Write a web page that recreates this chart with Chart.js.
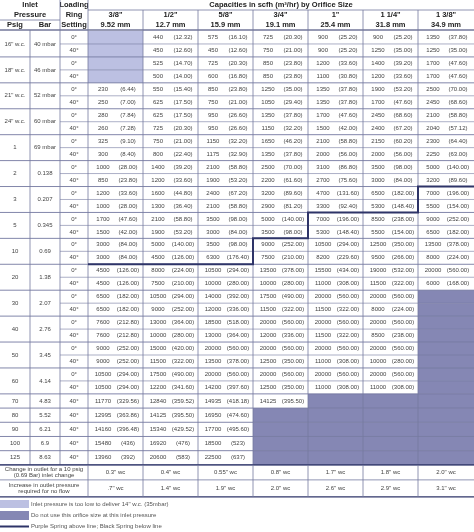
<!DOCTYPE html>
<html>
<head>
<meta charset="utf-8">
<script src="https://cdn.jsdelivr.net/npm/chart.js@4.4.0/dist/chart.umd.min.js"></script>
<style>
  html, body { margin: 0; padding: 0; background: #fff; }
  #wrap { width: 474px; height: 532px; }
</style>
</head>
<body>
<div id="wrap"><canvas id="tbl" width="474" height="532"></canvas></div>
<script>
// table data
const psigLabels = ['16" w.c.', '18" w.c.', '21" w.c.', '24" w.c.', '1', '2', '3', '5', '10', '20', '30', '40', '50', '60', '70', '80', '90', '100', '125'];
const barLabels = ['40 mbar', '46 mbar', '52 mbar', '60 mbar', '69 mbar', '0.138', '0.207', '0.345', '0.69', '1.38', '2.07', '2.76', '3.45', '4.14', '4.83', '5.52', '6.21', '6.9', '8.63'];
const sizeLabels = ['3/8"', '1/2"', '5/8"', '3/4"', '1"', '1 1/4"', '1 3/8"'];
const sizeMm = ['9.52 mm', '12.7 mm', '15.9 mm', '19.1 mm', '25.4 mm', '31.8 mm', '34.9 mm'];
const ringSetting = ['0°', '40°'];

// "scfh m3/hr", null = shaded cell
const capacities = [
  [null, '440 12.32', '575 16.10', '725 20.30', '900 25.20', '900 25.20', '1350 37.80'],
  [null, '450 12.60', '450 12.60', '750 21.00', '900 25.20', '1250 35.00', '1250 35.00'],
  [null, '525 14.70', '725 20.30', '850 23.80', '1200 33.60', '1400 39.20', '1700 47.60'],
  [null, '500 14.00', '600 16.80', '850 23.80', '1100 30.80', '1200 33.60', '1700 47.60'],
  ['230 6.44', '550 15.40', '850 23.80', '1250 35.00', '1350 37.80', '1900 53.20', '2500 70.00'],
  ['250 7.00', '625 17.50', '750 21.00', '1050 29.40', '1350 37.80', '1700 47.60', '2450 68.60'],
  ['280 7.84', '625 17.50', '950 26.60', '1350 37.80', '1700 47.60', '2450 68.60', '2100 58.80'],
  ['260 7.28', '725 20.30', '950 26.60', '1150 32.20', '1500 42.00', '2400 67.20', '2040 57.12'],
  ['325 9.10', '750 21.00', '1150 32.20', '1650 46.20', '2100 58.80', '2150 60.20', '2300 64.40'],
  ['300 8.40', '800 22.40', '1175 32.90', '1350 37.80', '2000 56.00', '2000 56.00', '2250 63.00'],
  ['1000 28.00', '1400 39.20', '2100 58.80', '2500 70.00', '3100 86.80', '3500 98.00', '5000 140.00'],
  ['850 23.80', '1200 33.60', '1900 53.20', '2200 61.60', '2700 75.60', '3000 84.00', '3200 89.60'],
  ['1200 33.60', '1600 44.80', '2400 67.20', '3200 89.60', '4700 131.60', '6500 182.00', '7000 196.00'],
  ['1000 28.00', '1300 36.40', '2100 58.80', '2900 81.20', '3300 92.40', '5300 148.40', '5500 154.00'],
  ['1700 47.60', '2100 58.80', '3500 98.00', '5000 140.00', '7000 196.00', '8500 238.00', '9000 252.00'],
  ['1500 42.00', '1900 53.20', '3000 84.00', '3500 98.00', '5300 148.40', '5500 154.00', '6500 182.00'],
  ['3000 84.00', '5000 140.00', '3500 98.00', '9000 252.00', '10500 294.00', '12500 350.00', '13500 378.00'],
  ['3000 84.00', '4500 126.00', '6300 176.40', '7500 210.00', '8200 229.60', '9500 266.00', '8000 224.00'],
  ['4500 126.00', '8000 224.00', '10500 294.00', '13500 378.00', '15500 434.00', '19000 532.00', '20000 560.00'],
  ['4500 126.00', '7500 210.00', '10000 280.00', '10000 280.00', '11000 308.00', '11500 322.00', '6000 168.00'],
  ['6500 182.00', '10500 294.00', '14000 392.00', '17500 490.00', '20000 560.00', '20000 560.00', null],
  ['6500 182.00', '9000 252.00', '12000 336.00', '11500 322.00', '11500 322.00', '8000 224.00', null],
  ['7600 212.80', '13000 364.00', '18500 518.00', '20000 560.00', '20000 560.00', '20000 560.00', null],
  ['7600 212.80', '10000 280.00', '13000 364.00', '12000 336.00', '11500 322.00', '8500 238.00', null],
  ['9000 252.00', '15000 420.00', '20000 560.00', '20000 560.00', '20000 560.00', '20000 560.00', null],
  ['9000 252.00', '11500 322.00', '13500 378.00', '12500 350.00', '11000 308.00', '10000 280.00', null],
  ['10500 294.00', '17500 490.00', '20000 560.00', '20000 560.00', '20000 560.00', '20000 560.00', null],
  ['10500 294.00', '12200 341.60', '14200 397.60', '12500 350.00', '11000 308.00', '11000 308.00', null],
  ['11770 329.56', '12840 359.52', '14935 418.18', '14125 395.50', null, null, null],
  ['12995 363.86', '14125 395.50', '16950 474.60', null, null, null, null],
  ['14160 396.48', '15340 429.52', '17700 495.60', null, null, null, null],
  ['15480 436', '16920 476', '18500 523', null, null, null, null],
  ['13960 392', '20600 583', '22500 637', null, null, null, null]
];

const changeOutlet = ['0.3" wc', '0.4" wc', '0.55" wc', '0.8" wc', '1.7" wc', '1.8" wc', '2.0" wc'];
const noFlowIncrease = ['.7" wc', '1.4" wc', '1.9" wc', '2.0" wc', '2.6" wc', '2.9" wc', '3.1" wc'];
const legendTexts = [
  'Inlet pressure is too low to deliver 14" w.c. (35mbar)',
  'Do not use this orifice size at this inlet pressure',
  'Purple Spring above line; Black Spring below line'
];

// layout (table units = scale values)
const colEdges = [0, 30, 60, 88, 143, 198, 253, 308, 363, 418, 474];
const headTop = 31, subRow = 12.96, groups = 14, singleRow = 14.2;
const rowTop = r => r <= 28 ? headTop + r * subRow : headTop + 28 * subRow + (r - 28) * singleRow;
const rowBottom = r => rowTop(r) + (r < 28 ? subRow : singleRow);
const footTop = rowTop(33);

const FONT = '"Liberation Sans Narrow", "Arial Narrow", "Liberation Sans", sans-serif';
const LINE = '#7478a0', DARK = '#2e3468', LIGHT_FILL = '#bcc0e2', DARK_FILL = '#8587b4';

const tablePlugin = {
  id: 'table',
  afterDatasetsDraw(chart) {
    const ctx = chart.ctx, xs = chart.scales.x, ys = chart.scales.y;
    const X = v => xs.getPixelForValue(v), Y = v => ys.getPixelForValue(v);
    const text = (s, x, y, size, opts = {}) => {
      ctx.font = (opts.bold ? 'bold ' : '') + size + 'px ' + FONT;
      ctx.fillStyle = opts.color || '#444';
      ctx.textAlign = opts.align || 'center';
      ctx.textBaseline = 'middle';
      ctx.fillText(s, X(x), Y(y));
    };
    const line = (x0, y0, x1, y1, w, c) => {
      ctx.beginPath();
      ctx.lineWidth = w; ctx.strokeStyle = c;
      ctx.moveTo(X(x0), Y(y0)); ctx.lineTo(X(x1), Y(y1)); ctx.stroke();
    };
    ctx.save();

    // shaded cells
    capacities.forEach((row, r) => row.forEach((cell, c) => {
      if (cell !== null) return;
      ctx.fillStyle = r < 4 ? LIGHT_FILL : DARK_FILL;
      const x0 = X(colEdges[c + 3]), x1 = X(colEdges[c + 4]);
      ctx.fillRect(x0, Y(rowTop(r)), x1 - x0, Y(rowBottom(r)) - Y(rowTop(r)));
    }));

    // header
    const hd = { bold: true, color: '#222' };
    text('Inlet', 30, 5, 7.5, hd);
    text('Pressure', 30, 14.5, 7.5, hd);
    text('Psig', 15, 25, 7.5, hd);
    text('Bar', 45, 25, 7.5, hd);
    text('Loading', 74, 5, 7.5, hd);
    text('Ring', 74, 15, 7.5, hd);
    text('Setting', 74, 25, 7.5, hd);
    text('Capacities in scfh (m³/hr) by Orifice Size', 281, 5, 7.5, hd);
    sizeLabels.forEach((s, i) => {
      const cx = (colEdges[i + 3] + colEdges[i + 4]) / 2;
      text(s, cx, 15, 7.5, hd);
      text(sizeMm[i], cx, 25, 7.5, hd);
    });
    line(0, 20, 60, 20, 0.8, LINE);
    line(88, 10, 474, 10, 0.8, LINE);
    line(0, 30, 474, 30, 1.2, DARK);
    line(60, 0, 60, 30, 0.8, LINE);
    line(88, 0, 88, 30, 0.8, LINE);
    for (let i = 4; i < 10; i++) line(colEdges[i], 10, colEdges[i], 30, 0.8, LINE);

    // body rows
    for (let r = 0; r < 33; r++) {
      const cy = (rowTop(r) + rowBottom(r)) / 2;
      const ring = r < 28 ? ringSetting[r % 2] : ringSetting[1];
      text(ring, 74, cy, 6);
      capacities[r].forEach((cell, c) => {
        if (cell === null) return;
        const [scfh, m3] = cell.split(' ');
        text(scfh, colEdges[c + 3] + 15, cy, 6);
        text('(' + m3 + ')', colEdges[c + 3] + 40, cy, 6);
      });
      const groupEnd = r >= 27 || r % 2 === 1;
      line(groupEnd ? 0 : 60, rowBottom(r), 474, rowBottom(r), groupEnd ? 0.9 : 0.6, LINE);
    }
    for (let g = 0; g < psigLabels.length; g++) {
      const r0 = g < groups ? g * 2 : g + 14;
      const r1 = g < groups ? r0 + 1 : r0;
      const cy = (rowTop(r0) + rowBottom(r1)) / 2;
      text(psigLabels[g], 15, cy, 6);
      text(barLabels[g], 45, cy, 6);
    }
    colEdges.slice(1, 10).forEach(x => line(x, 30, x, footTop, 0.8, LINE));

    // footer rows
    const f1 = footTop + 15, f2 = f1 + 17;
    line(0, footTop, 474, footTop, 1.2, DARK);
    text('Change in outlet for a 10 psig', 44, footTop + 4.5, 6);
    text('(0.69 Bar) inlet change', 44, footTop + 10.5, 6);
    text('Increase in outlet pressure', 44, f1 + 5, 6);
    text('required for no flow', 44, f1 + 11.5, 6);
    changeOutlet.forEach((s, i) => text(s, (colEdges[i + 3] + colEdges[i + 4]) / 2, (footTop + f1) / 2, 6));
    noFlowIncrease.forEach((s, i) => text(s, (colEdges[i + 3] + colEdges[i + 4]) / 2, (f1 + f2) / 2, 6));
    line(0, f1, 474, f1, 0.8, LINE);
    line(0, f2, 474, f2, 1.2, DARK);
    colEdges.slice(3, 10).forEach(x => line(x, footTop, x, f2, 0.8, LINE));

    // spring boundary line
    const stair = [[474, rowTop(12)], [418, rowTop(12)], [418, rowTop(14)], [308, rowTop(14)],
      [308, rowTop(16)], [253, rowTop(16)], [253, rowTop(18)], [88, rowTop(18)]];
    ctx.beginPath();
    ctx.lineWidth = 2; ctx.strokeStyle = DARK;
    stair.forEach(([x, y], i) => i ? ctx.lineTo(X(x), Y(y)) : ctx.moveTo(X(x), Y(y)));
    ctx.stroke();

    // legend
    const ly = [504, 515.5, 526.5];
    ctx.fillStyle = LIGHT_FILL;
    ctx.fillRect(X(0), Y(500), X(29) - X(0), Y(508) - Y(500));
    ctx.fillStyle = DARK_FILL;
    ctx.fillRect(X(0), Y(511), X(29) - X(0), Y(520) - Y(511));
    line(0, 526.5, 29, 526.5, 2, DARK);
    legendTexts.forEach((s, i) => text(s, 31, ly[i], 6, { align: 'left', color: '#555' }));
    ctx.restore();
  }
};

const cellPoints = [];
capacities.forEach((row, r) => row.forEach((cell, c) => {
  if (cell !== null) cellPoints.push({ x: (colEdges[c + 3] + colEdges[c + 4]) / 2, y: (rowTop(r) + rowBottom(r)) / 2 });
}));

new Chart(document.getElementById('tbl'), {
  type: 'scatter',
  data: { datasets: [{ data: cellPoints, pointRadius: 0 }] },
  options: {
    responsive: false,
    animation: false,
    layout: { padding: 0 },
    plugins: { legend: { display: false }, tooltip: { enabled: false } },
    scales: {
      x: { type: 'linear', min: 0, max: 474, display: false },
      y: { type: 'linear', min: 0, max: 532, reverse: true, display: false }
    }
  },
  plugins: [tablePlugin]
});
</script>
</body>
</html>
